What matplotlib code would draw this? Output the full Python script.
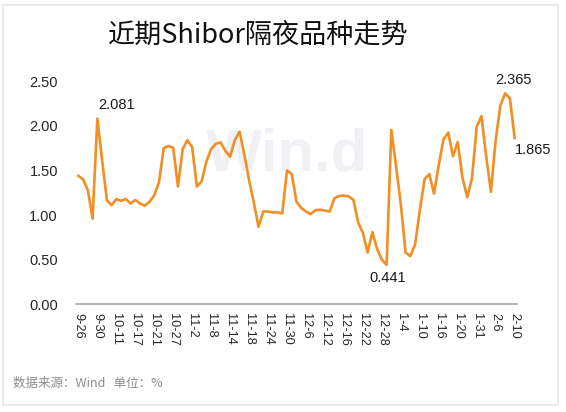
import matplotlib
matplotlib.use('Agg')
import matplotlib.pyplot as plt
from matplotlib.patches import Rectangle

# 隔夜 Shibor, %
values = [1.44, 1.40, 1.28, 0.96, 2.081, 1.62, 1.17, 1.11, 1.18, 1.16,
          1.18, 1.13, 1.17, 1.13, 1.105, 1.15, 1.22, 1.37, 1.75, 1.775,
          1.755, 1.32, 1.74, 1.84, 1.76, 1.32, 1.38, 1.60, 1.74, 1.80,
          1.815, 1.72, 1.655, 1.84, 1.935, 1.68, 1.39, 1.14, 0.87, 1.04,
          1.04, 1.03, 1.03, 1.02, 1.50, 1.46, 1.15, 1.08, 1.04, 1.01,
          1.055, 1.06, 1.05, 1.04, 1.19, 1.215, 1.218, 1.21, 1.17, 0.92,
          0.80, 0.58, 0.81, 0.62, 0.50, 0.441, 1.955, 1.55, 1.12, 0.58,
          0.54, 0.67, 1.05, 1.40, 1.46, 1.24, 1.56, 1.85, 1.925, 1.66,
          1.82, 1.42, 1.20, 1.41, 1.99, 2.11, 1.66, 1.26, 1.84, 2.23,
          2.365, 2.31, 1.865]

tick_labels = ['9-26', '9-30', '10-11', '10-17', '10-21', '10-27', '11-2', '11-8',
               '11-14', '11-18', '11-24', '11-30', '12-6', '12-12', '12-16', '12-22',
               '12-28', '1-4', '1-10', '1-16', '1-20', '1-31', '2-6', '2-10']
tick_step = 4

# 标注的点: 序号
marked = [4, 65, 90, 92]
marked_offsets = [(14, 10), (1, -9.5), (6, 9.5), (13, -8.5)]

yticks = [0.0, 0.5, 1.0, 1.5, 2.0, 2.5]

plt.rcParams['font.family'] = ['Liberation Sans', 'Noto Sans CJK SC', 'DejaVu Sans']

fig = plt.figure(figsize=(5.66, 4.12), dpi=100)
fig.patch.set_facecolor('white')

# card border
fig.patches.append(Rectangle((3 / 566, 7 / 412), 555 / 566, 400 / 412, transform=fig.transFigure,
                             facecolor='none', edgecolor='#e6e6e6', linewidth=1.2, zorder=0))

ax = fig.add_axes([76 / 566, 1 - 304.3 / 412, 441 / 566, (304.3 - 81.3) / 412])
ax.set_facecolor('none')

# watermark, behind the line
ax.text(287 / 566, 1 - 155 / 412, 'Win.d', fontsize=43, fontweight='bold',
        color='#f0f1f4', ha='center', va='center', zorder=1, transform=fig.transFigure)

x = list(range(len(values)))
ax.plot(x, values, color='#f28e22', linewidth=1.9, solid_joinstyle='round', zorder=3)

for i, (dx, dy) in zip(marked, marked_offsets):
    ax.annotate(f'{values[i]:.3f}', (i, values[i]), xytext=(dx, dy), textcoords='offset points',
                ha='center', va='center', fontsize=10.5, color='#1a1a1a')

ax.set_xlim(-0.5, len(values) - 0.5)
ax.set_ylim(0, 2.5)
ax.set_yticks(yticks)
ax.set_yticklabels([f'{v:.2f}' for v in yticks])
ax.set_xticks(range(0, len(values), tick_step))
ax.set_xticklabels(tick_labels, rotation=270, ha='center', va='top')

for s in ['top', 'right', 'left']:
    ax.spines[s].set_visible(False)
ax.spines['bottom'].set_color('#a6a6a6')
ax.spines['bottom'].set_linewidth(1.2)
ax.tick_params(axis='y', length=0, pad=13, labelsize=10.5, labelcolor='#262626')
ax.tick_params(axis='x', length=0, pad=6, labelsize=9.2, labelcolor='#262626')

fig.text(258.5 / 566, 1 - 35 / 412, '近期Shibor隔夜品种走势', fontsize=19.5,
         family=['Noto Sans CJK SC', 'DejaVu Sans'], ha='center', va='center', color='#111111')

fig.text(13 / 566, 1 - 383 / 412, '数据来源：Wind   单位：%', fontsize=9,
         family=['Noto Sans CJK SC', 'DejaVu Sans'], ha='left', va='center', color='#8c8c8c')

fig.savefig('out.png', dpi=100)
